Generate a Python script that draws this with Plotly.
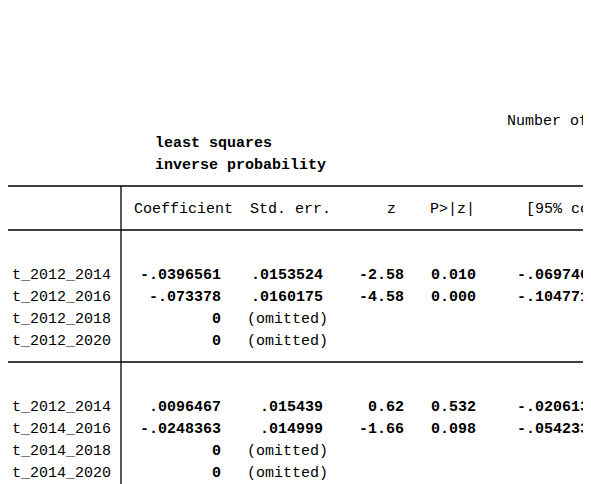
import plotly.graph_objects as go

W, H = 591, 484
FONT = "Liberation Mono"
SIZE = 15
RED = "#ff2020"

intro = ["Panel is not balanced",
         "Will use observations with Pair balanced (observed at t0 and t1)",
         "..xx..xxxxxx",
         "Difference-in-difference with Multiple Time Periods"]
intro_colors = [RED, RED, "black", "black"]

groups = ["g2014", "g2016"]
rows = [["t_2012_2014", "t_2012_2016", "t_2012_2018", "t_2012_2020"],
        ["t_2012_2014", "t_2014_2016", "t_2014_2018", "t_2014_2020"]]
coef = [["-.0396561", "-.073378", "0", "0"],
        [".0096467", "-.0248363", "0", "0"]]
se = [[".0153524", ".0160175", "(omitted)", "(omitted)"],
      [".015439", ".014999", "(omitted)", "(omitted)"]]
zval = [["-2.58", "-4.58", "", ""], ["0.62", "-1.66", "", ""]]
pval = [["0.010", "0.000", "", ""], ["0.532", "0.098", "", ""]]
ci_lo = [["-.0697462", "-.1047718", "", ""], ["-.0206132", "-.0542338", "", ""]]

headers = ["Coefficient", "Std. err.", "z", "P>|z|"]
header_right = [237, 335, 400, 479]
col_right = [225, 327, 408, 480]

fig = go.Figure()
ann = []


def txt(x, y, s, anchor="left", color="black", bold=False):
    if bold:
        s = "<b>" + s + "</b>"
    ann.append(dict(x=x, y=y, text=s, xref="x", yref="y", showarrow=False,
                    xanchor=anchor, yanchor="middle",
                    font=dict(family=FONT, size=SIZE, color=color)))


for i, (s, c) in enumerate(zip(intro, intro_colors)):
    txt(2, 10 + 22 * i, s, color=c, bold=(i == 2))

txt(507, 120, "Number of obs = ")
txt(2, 142, "Outcome model  : ")
txt(155, 142, "least squares", bold=True)
txt(2, 164, "Treatment model: ")
txt(155, 164, "inverse probability", bold=True)

for h, xr in zip(headers, header_right):
    txt(xr, 208, h, anchor="right")
txt(526, 208, "[95% conf. interval]")

for g in range(2):
    y0 = 252 + 132 * g
    txt(2, y0, groups[g], bold=True)
    for r in range(4):
        y = y0 + 22 * (r + 1)
        txt(12, y, rows[g][r])
        txt(col_right[0], y, coef[g][r], anchor="right", bold=True)
        if se[g][r] == "(omitted)":
            txt(247, y, se[g][r])
        else:
            txt(col_right[1], y, se[g][r], anchor="right", bold=True)
        txt(col_right[2], y, zval[g][r], anchor="right", bold=True)
        txt(col_right[3], y, pval[g][r], anchor="right", bold=True)
        txt(517, y, ci_lo[g][r], bold=True)

shapes = []
for yl in [185, 229, 361]:
    shapes.append(dict(type="line", xref="x", yref="y", x0=-20, x1=W + 20, y0=yl, y1=yl,
                       line=dict(color="black", width=1.3)))
shapes.append(dict(type="line", xref="x", yref="y", x0=123, x1=123, y0=185, y1=H + 20,
                   line=dict(color="black", width=1.3)))

# shift view to compensate for the page's body margin
fig.update_layout(width=W, height=H, margin=dict(l=0, r=0, t=0, b=0),
                  plot_bgcolor="white", paper_bgcolor="white",
                  annotations=ann, shapes=shapes, showlegend=False,
                  xaxis=dict(range=[10, W + 10], visible=False, fixedrange=True),
                  yaxis=dict(range=[H + 7, 7], visible=False, fixedrange=True))
fig.write_html("out.html", config={"displayModeBar": False})
